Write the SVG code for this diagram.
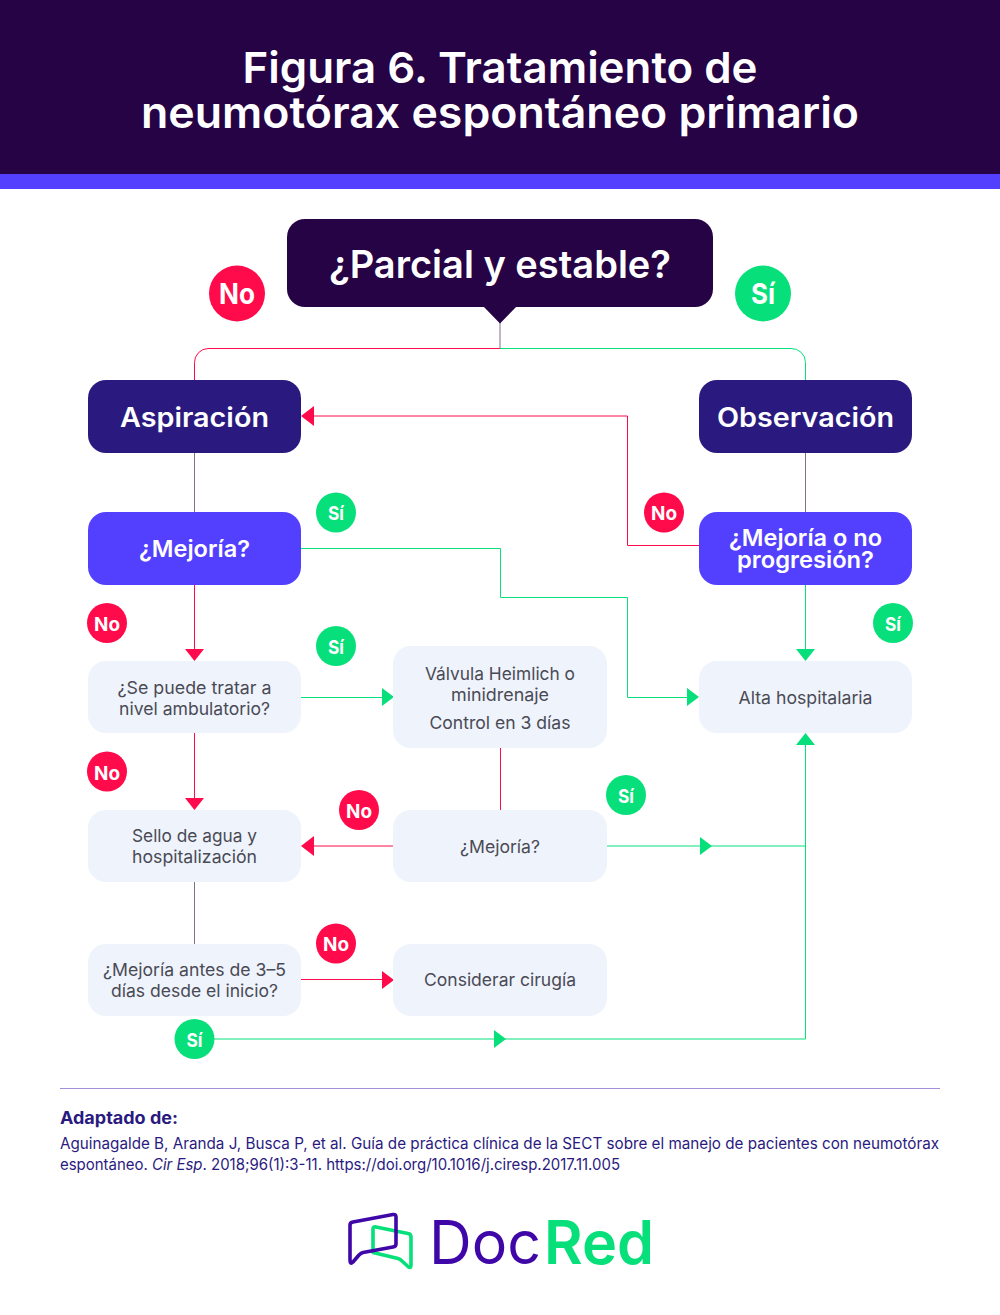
<svg xmlns="http://www.w3.org/2000/svg" width="1000" height="1315" viewBox="0 0 1000 1315">
<style>
text{font-family:"Inter","Liberation Sans",sans-serif;text-anchor:middle}
.light{fill:#eff3fc}.mid{fill:#5340ff}.dark{fill:#2a1a80}
.t18{font-size:17.500px;fill:#4a4a55;font-weight:400}
.w{fill:#fff;font-weight:600}
.badge{fill:#fff;font-weight:700;font-size:19px}
.big{font-size:29px}
.g{fill:#07e07a}.rd{fill:#ff0a4a}
.ln{fill:none;stroke-width:1}
.sr{stroke:#ff0a4a}.sg{stroke:#07e07a}.sk{stroke:#807088}
</style>
<rect width="1000" height="1315" fill="#fff"/>
<g id="header">
<rect width="1000" height="174" fill="#260345"/>
<rect y="174" width="1000" height="15" fill="#5340ff"/>
<text x="500" y="83" font-size="43" font-weight="600" fill="#fff" textLength="515" lengthAdjust="spacingAndGlyphs">Figura 6. Tratamiento de</text>
<text x="500" y="128" font-size="43" font-weight="600" fill="#fff" textLength="718" lengthAdjust="spacingAndGlyphs">neumotórax espontáneo primario</text>
</g>
<g id="connectors">
<path class="ln sk" d="M500 322V348"/>
<path class="ln sg" d="M500 348.500H791a14 14 0 0 1 14.500 14V381"/>
<path class="ln sr" d="M500 348.500H208a14 14 0 0 0-13.500 14V381"/>
<path class="ln sk" d="M194.500 453V513"/>
<path class="ln sk" d="M805.500 453V513"/>
<path class="ln sr" d="M699 545.500H627.500V416H312"/>
<path class="rd" d="M301 416L314 406V426Z"/>
<path class="ln sg" d="M301 548.500H500.500V597.500H627.500V697.500H690"/>
<path class="g" d="M699 697L687 688V706Z"/>
<path class="ln sg" d="M805.500 585V650"/>
<path class="g" d="M805.500 661L796 649H815Z"/>
<path class="ln sr" d="M194.500 585V650"/>
<path class="rd" d="M194.500 661L185 649H204Z"/>
<path class="ln sg" d="M301 697.500H384"/>
<path class="g" d="M394 697L382 688V706Z"/>
<path class="ln sr" d="M194.500 733V800"/>
<path class="rd" d="M194.500 810L185 798H204Z"/>
<path class="ln sr" d="M500.500 748V810"/>
<path class="ln sr" d="M394 846H312"/>
<path class="rd" d="M301 846L314 836V856Z"/>
<path class="ln sg" d="M607 846H805.500"/>
<path class="g" d="M712 846L700 837V855Z"/>
<path class="ln sg" d="M805.500 1039V745"/>
<path class="g" d="M805.500 733L796 745H815Z"/>
<path class="ln sk" d="M194.500 882V944"/>
<path class="ln sr" d="M301 979.500H384"/>
<path class="rd" d="M394 980L382 971V989Z"/>
<path class="ln sg" d="M214 1039H805.500"/>
<path class="g" d="M506 1039L494 1030V1048Z"/>
</g>
<g id="n-parcial"><rect x="287" y="219" width="426" height="88" rx="18" fill="#260345"/><path d="M483 306H517L500 323.500Z" fill="#260345"/><text class="w" x="500" y="278" font-size="38" textLength="342" lengthAdjust="spacingAndGlyphs">¿Parcial y estable?</text></g>
<g id="n-aspiracion"><rect class="dark" x="88" y="380" width="213" height="73" rx="18"/><text class="w" x="194.500" y="427" font-size="27" textLength="149" lengthAdjust="spacingAndGlyphs">Aspiración</text></g>
<g id="n-observacion"><rect class="dark" x="699" y="380" width="213" height="73" rx="18"/><text class="w" x="805.500" y="427" font-size="27" textLength="177" lengthAdjust="spacingAndGlyphs">Observación</text></g>
<g id="n-mejoria1"><rect class="mid" x="88" y="512" width="213" height="73" rx="18"/><text class="w" x="194.500" y="557" font-size="23" textLength="111" lengthAdjust="spacingAndGlyphs">¿Mejoría?</text></g>
<g id="n-mejoria2"><rect class="mid" x="699" y="512" width="213" height="73" rx="18"/><text class="w" x="805.500" y="546" font-size="23" textLength="153" lengthAdjust="spacingAndGlyphs">¿Mejoría o no</text><text class="w" x="805.500" y="568" font-size="23" textLength="137" lengthAdjust="spacingAndGlyphs">progresión?</text></g>
<g id="n-ambulatorio"><rect class="light" x="88" y="661" width="213" height="72" rx="18"/><text class="t18" x="194.500" y="693.500" textLength="154" lengthAdjust="spacingAndGlyphs">¿Se puede tratar a</text><text class="t18" x="194.500" y="714.500" textLength="151" lengthAdjust="spacingAndGlyphs">nivel ambulatorio?</text></g>
<g id="n-valvula"><rect class="light" x="393" y="646" width="214" height="102" rx="18"/><text class="t18" x="500" y="679.500" textLength="150" lengthAdjust="spacingAndGlyphs">Válvula Heimlich o</text><text class="t18" x="500" y="700.500" textLength="98" lengthAdjust="spacingAndGlyphs">minidrenaje</text><text class="t18" x="500" y="728.500" textLength="141" lengthAdjust="spacingAndGlyphs">Control en 3 días</text></g>
<g id="n-alta"><rect class="light" x="699" y="661" width="213" height="72" rx="18"/><text class="t18" x="805.500" y="704" textLength="134" lengthAdjust="spacingAndGlyphs">Alta hospitalaria</text></g>
<g id="n-sello"><rect class="light" x="88" y="810" width="213" height="72" rx="18"/><text class="t18" x="194.500" y="842" textLength="125" lengthAdjust="spacingAndGlyphs">Sello de agua y</text><text class="t18" x="194.500" y="863" textLength="125" lengthAdjust="spacingAndGlyphs">hospitalización</text></g>
<g id="n-mejoria3"><rect class="light" x="393" y="810" width="214" height="72" rx="18"/><text class="t18" x="500" y="852.500" textLength="80" lengthAdjust="spacingAndGlyphs">¿Mejoría?</text></g>
<g id="n-mejoria4"><rect class="light" x="88" y="944" width="213" height="72" rx="18"/><text class="t18" x="194.500" y="976" textLength="183" lengthAdjust="spacingAndGlyphs">¿Mejoría antes de 3–5</text><text class="t18" x="194.500" y="997" textLength="167" lengthAdjust="spacingAndGlyphs">días desde el inicio?</text></g>
<g id="n-cirugia"><rect class="light" x="393" y="944" width="214" height="72" rx="18"/><text class="t18" x="500" y="986" textLength="152" lengthAdjust="spacingAndGlyphs">Considerar cirugía</text></g>
<g id="badges">
<circle class="rd" cx="237" cy="293.500" r="28"/><text class="badge big" x="237" y="304" textLength="36" lengthAdjust="spacingAndGlyphs">No</text>
<circle class="g" cx="763" cy="293.500" r="28"/><text class="badge big" x="763" y="304" textLength="24" lengthAdjust="spacingAndGlyphs">Sí</text>
<circle class="g" cx="336" cy="512.500" r="20"/><text class="badge" x="336" y="520" textLength="16" lengthAdjust="spacingAndGlyphs">Sí</text>
<circle class="rd" cx="664" cy="512.500" r="20"/><text class="badge" x="664" y="520" textLength="26" lengthAdjust="spacingAndGlyphs">No</text>
<circle class="rd" cx="107" cy="623" r="20"/><text class="badge" x="107" y="630.700" textLength="26" lengthAdjust="spacingAndGlyphs">No</text>
<circle class="g" cx="893" cy="623" r="20"/><text class="badge" x="893" y="630.700" textLength="16" lengthAdjust="spacingAndGlyphs">Sí</text>
<circle class="g" cx="336" cy="646" r="20"/><text class="badge" x="336" y="653.700" textLength="16" lengthAdjust="spacingAndGlyphs">Sí</text>
<circle class="rd" cx="107" cy="771.500" r="20"/><text class="badge" x="107" y="779.500" textLength="26" lengthAdjust="spacingAndGlyphs">No</text>
<circle class="g" cx="626" cy="795" r="20"/><text class="badge" x="626" y="802.700" textLength="16" lengthAdjust="spacingAndGlyphs">Sí</text>
<circle class="rd" cx="359" cy="810" r="20"/><text class="badge" x="359" y="817.700" textLength="26" lengthAdjust="spacingAndGlyphs">No</text>
<circle class="rd" cx="336" cy="943.500" r="20"/><text class="badge" x="336" y="951" textLength="26" lengthAdjust="spacingAndGlyphs">No</text>
<circle class="g" cx="194.500" cy="1039" r="20"/><text class="badge" x="194.500" y="1047" textLength="16" lengthAdjust="spacingAndGlyphs">Sí</text>
</g>
<g id="footer">
<path d="M60 1088.500H940" stroke="#a48fd8" stroke-width="1"/>
<text x="60" y="1124" font-size="17" font-weight="700" fill="#2a1a80" style="text-anchor:start" textLength="118" lengthAdjust="spacingAndGlyphs">Adaptado de:</text>
<text x="60" y="1149" font-size="15.500" fill="#2a1a80" style="text-anchor:start" textLength="879" lengthAdjust="spacingAndGlyphs">Aguinagalde B, Aranda J, Busca P, et al. Guía de práctica clínica de la SECT sobre el manejo de pacientes con neumotórax</text>
<text x="60" y="1170" font-size="15.500" fill="#2a1a80" style="text-anchor:start" textLength="560" lengthAdjust="spacingAndGlyphs">espontáneo. <tspan font-style="italic">Cir Esp</tspan>. 2018;96(1):3-11. https://doi.org/10.1016/j.ciresp.2017.11.005</text>
</g>
<g id="logo">
<path d="M373 1252.500L398 1258.500Q400 1259 402 1261L408 1266.500Q411 1269 411 1265V1237Q411 1234 408 1233.500L376 1227Q373 1226.500 373 1229Z" fill="none" stroke="#07e07a" stroke-width="3.600" stroke-linejoin="round"/>
<path d="M350 1225V1260Q350 1265 353 1262L359 1255Q361 1253 363 1252.500L393 1247Q396 1246.500 396 1244V1217Q396 1214 393 1214.500L353 1222Q350 1222.500 350 1225Z" fill="none" stroke="#3f06a8" stroke-width="3.600" stroke-linejoin="round"/>
<text x="429" y="1263.500" font-size="60" font-weight="400" fill="#3f06a8" style="text-anchor:start" textLength="112" lengthAdjust="spacingAndGlyphs">Doc</text>
<text x="544" y="1263.500" font-size="60" font-weight="600" fill="#07e07a" style="text-anchor:start" textLength="110" lengthAdjust="spacingAndGlyphs">Red</text>
</g>
</svg>
